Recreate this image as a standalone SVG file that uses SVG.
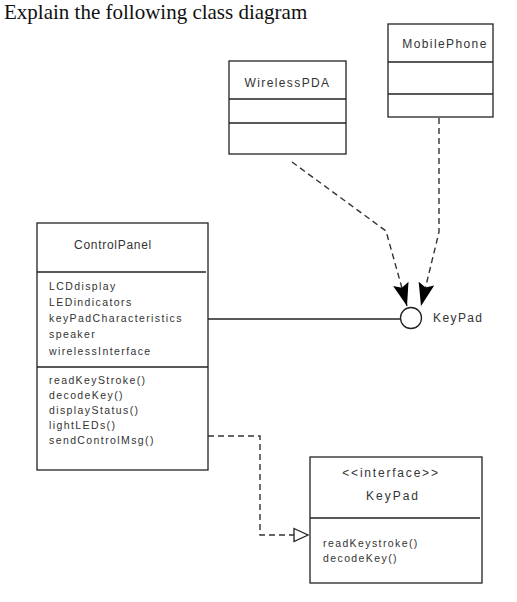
<svg xmlns="http://www.w3.org/2000/svg" width="517" height="602" viewBox="0 0 517 602">
<style>
.box{fill:#fff;stroke:#222;stroke-width:1.3}
.sep{stroke:#222;stroke-width:1.3}
.t{font-family:"Liberation Sans",Arial,sans-serif;fill:#333}
.name{font-size:12px;letter-spacing:1.4px}
.attr{font-size:10.5px;letter-spacing:1.4px}
.dash{fill:none;stroke:#333;stroke-width:1.4;stroke-dasharray:6,4}
.title{font-family:"Liberation Serif","Times New Roman",serif;font-size:21px;fill:#111}
</style>
<defs>
<marker id="barb" markerUnits="userSpaceOnUse" markerWidth="28" markerHeight="20" refX="0" refY="0" viewBox="-26 -10 28 20" orient="auto">
<path d="M0,0 L-23,-8 L-19,0 L-23,8 Z" fill="#000"/>
</marker>
</defs>
<rect width="517" height="602" fill="#fff"/>
<text class="title" x="4" y="19">Explain the following class diagram</text>

<g id="connectors">
<path class="dash" d="M292,162 L386,231 L407,306" marker-end="url(#barb)"/>
<path class="dash" d="M439,118 L439,232 L421,306" marker-end="url(#barb)"/>
<line x1="208" y1="319" x2="400" y2="319" stroke="#222" stroke-width="1.3"/>
<path class="dash" d="M208,436 H260 V535 H294" stroke-dasharray="6,4"/>
<path d="M294,528.5 L308,535 L294,541.5 Z" fill="#fff" stroke="#222" stroke-width="1.3"/>
</g>

<g id="WirelessPDA">
<rect class="box" x="229" y="61" width="117" height="93"/>
<line class="sep" x1="229" y1="99" x2="346" y2="99"/>
<line class="sep" x1="229" y1="123" x2="346" y2="123"/>
<text class="t name" x="287.5" y="87" text-anchor="middle">WirelessPDA</text>
</g>

<g id="MobilePhone">
<rect class="box" x="388" y="24" width="105" height="93"/>
<line class="sep" x1="388" y1="62" x2="493" y2="62"/>
<line class="sep" x1="388" y1="94" x2="493" y2="94"/>
<text class="t name" x="445" y="48" text-anchor="middle">MobilePhone</text>
</g>

<g id="ControlPanel">
<rect class="box" x="37" y="223" width="171" height="247"/>
<line class="sep" x1="37" y1="272" x2="206" y2="272"/>
<line class="sep" x1="37" y1="367" x2="208" y2="367"/>
<text class="t name" x="113" y="249" text-anchor="middle" style="letter-spacing:0.7px">ControlPanel</text>
<text class="t attr" x="49" y="290">LCDdisplay</text>
<text class="t attr" x="49" y="306">LEDindicators</text>
<text class="t attr" x="49" y="322">keyPadCharacteristics</text>
<text class="t attr" x="49" y="338">speaker</text>
<text class="t attr" x="49" y="355">wirelessInterface</text>
<text class="t attr" x="49" y="384">readKeyStroke()</text>
<text class="t attr" x="49" y="399">decodeKey()</text>
<text class="t attr" x="49" y="414">displayStatus()</text>
<text class="t attr" x="49" y="429">lightLEDs()</text>
<text class="t attr" x="49" y="444">sendControlMsg()</text>
</g>

<g id="KeyPadInterfaceIcon">
<circle cx="411" cy="318" r="10.5" fill="#fff" stroke="#222" stroke-width="1.3"/>
<text class="t name" x="433" y="322">KeyPad</text>
</g>

<g id="KeyPad">
<rect class="box" x="310" y="457" width="172" height="126"/>
<line class="sep" x1="310" y1="518" x2="480" y2="518"/>
<text class="t name" x="391" y="477" text-anchor="middle" style="letter-spacing:1.8px">&lt;&lt;interface&gt;&gt;</text>
<text class="t name" x="393" y="500" text-anchor="middle" style="letter-spacing:2px">KeyPad</text>
<text class="t attr" x="323" y="547">readKeystroke()</text>
<text class="t attr" x="323" y="562">decodeKey()</text>
</g>
</svg>
